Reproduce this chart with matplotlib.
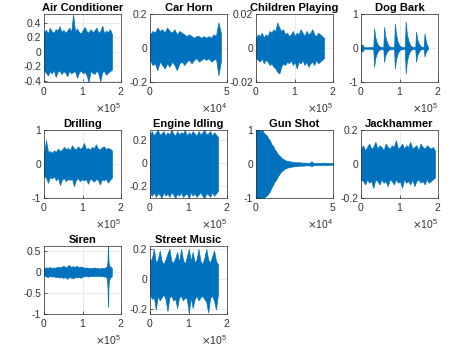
import numpy as np
import matplotlib.pyplot as plt
from matplotlib.ticker import FuncFormatter, ScalarFormatter

plt.rcParams["font.family"] = ["Liberation Sans", "DejaVu Sans"]
plt.rcParams["axes.unicode_minus"] = False

WAVE = "#0072BD"
AXC = "#262626"

titles = ["Air Conditioner", "Car Horn", "Children Playing", "Dog Bark",
          "Drilling", "Engine Idling", "Gun Shot", "Jackhammer",
          "Siren", "Street Music"]

# clip lengths in samples
clip_len = [176400, 46000, 176400, 176400, 176400, 176400, 50000, 192000, 176400, 176400]

# amplitude envelopes (upper / lower), evenly spaced over each clip
ac_hi = [0.27, 0.30, 0.25, 0.33, 0.28, 0.26, 0.31, 0.29, 0.35, 0.27, 0.30, 0.26, 0.29,
         0.33, 0.27, 0.51, 0.28, 0.32, 0.27, 0.25, 0.30, 0.34, 0.28, 0.26, 0.31, 0.27,
         0.29, 0.33, 0.26, 0.28, 0.36, 0.25, 0.29, 0.27, 0.31, 0.24]
ac_lo = [-0.26, -0.29, -0.33, -0.27, -0.30, -0.25, -0.35, -0.28, -0.26, -0.31, -0.27,
         -0.29, -0.34, -0.26, -0.30, -0.28, -0.27, -0.36, -0.29, -0.26, -0.30, -0.28,
         -0.33, -0.42, -0.27, -0.29, -0.31, -0.26, -0.30, -0.41, -0.28, -0.27, -0.32,
         -0.29, -0.27, -0.25]

ch_hi = [0.08, 0.10, 0.09, 0.12, 0.10, 0.11, 0.09, 0.12, 0.10, 0.09, 0.11, 0.08, 0.10,
         0.09, 0.08, 0.07, 0.08, 0.07, 0.06, 0.07, 0.07, 0.06, 0.07, 0.06, 0.07, 0.06,
         0.08, 0.07, 0.15, 0.09]
ch_lo = [-0.07, -0.10, -0.09, -0.13, -0.08, -0.10, -0.12, -0.09, -0.11, -0.08, -0.10,
         -0.13, -0.09, -0.08, -0.10, -0.08, -0.07, -0.09, -0.07, -0.06, -0.08, -0.07,
         -0.06, -0.07, -0.06, -0.08, -0.07, -0.06, -0.16, -0.08]

cp_hi = [0.006, 0.008, 0.007, 0.009, 0.006, 0.008, 0.007, 0.010, 0.009, 0.011, 0.010,
         0.015, 0.012, 0.010, 0.011, 0.008, 0.009, 0.007, 0.008, 0.010, 0.007, 0.009,
         0.008, 0.011, 0.009, 0.007, 0.010, 0.008, 0.009, 0.011, 0.008, 0.007, 0.009,
         0.008, 0.007, 0.006]
cp_lo = [-0.006, -0.007, -0.008, -0.006, -0.009, -0.007, -0.008, -0.010, -0.009, -0.011,
         -0.012, -0.014, -0.015, -0.011, -0.009, -0.010, -0.008, -0.009, -0.007, -0.010,
         -0.008, -0.012, -0.008, -0.009, -0.007, -0.010, -0.008, -0.011, -0.009, -0.008,
         -0.010, -0.007, -0.009, -0.008, -0.007, -0.006]

dr_hi = [0.30, 0.70, 0.35, 0.38, 0.33, 0.40, 0.36, 0.45, 0.38, 0.42, 0.50, 0.44, 0.47,
         0.41, 0.55, 0.46, 0.43, 0.52, 0.45, 0.48, 0.62, 0.44, 0.47, 0.42, 0.50, 0.46,
         0.58, 0.45, 0.43, 0.49, 0.52, 0.44, 0.47, 0.45, 0.40]
dr_lo = [-0.35, -0.40, -0.55, -0.38, -0.42, -0.36, -0.48, -0.40, -0.62, -0.45, -0.42,
         -0.50, -0.44, -0.47, -0.43, -0.65, -0.46, -0.42, -0.50, -0.45, -0.48, -0.44,
         -0.58, -0.43, -0.46, -0.52, -0.44, -0.47, -0.60, -0.45, -0.48, -0.43, -0.55,
         -0.46, -0.40]

ei_hi = [0.25, 0.28, 0.24, 0.27, 0.29, 0.25, 0.26, 0.28, 0.24, 0.27, 0.25, 0.29, 0.26,
         0.24, 0.28, 0.25, 0.27, 0.26, 0.29, 0.24, 0.27, 0.25, 0.28, 0.26, 0.24, 0.28,
         0.25, 0.27, 0.29, 0.25, 0.26, 0.28, 0.24, 0.27, 0.25, 0.23]
ei_lo = [-0.26, -0.28, -0.25, -0.29, -0.26, -0.27, -0.30, -0.25, -0.28, -0.26, -0.29,
         -0.25, -0.27, -0.30, -0.26, -0.28, -0.25, -0.29, -0.27, -0.26, -0.30, -0.25,
         -0.28, -0.26, -0.29, -0.27, -0.25, -0.28, -0.30, -0.26, -0.27, -0.29, -0.25,
         -0.28, -0.26, -0.24]

jh_hi = [0.09, 0.11, 0.08, 0.10, 0.12, 0.09, 0.10, 0.13, 0.09, 0.11, 0.10, 0.08, 0.12,
         0.10, 0.09, 0.11, 0.10, 0.14, 0.09, 0.10, 0.12, 0.09, 0.11, 0.10, 0.13, 0.09,
         0.10, 0.11, 0.08, 0.12, 0.10, 0.09, 0.11, 0.10, 0.09, 0.10, 0.08]
jh_lo = [-0.09, -0.10, -0.12, -0.09, -0.11, -0.10, -0.14, -0.09, -0.10, -0.12, -0.09,
         -0.11, -0.10, -0.13, -0.09, -0.10, -0.12, -0.09, -0.11, -0.10, -0.14, -0.09,
         -0.11, -0.10, -0.12, -0.09, -0.13, -0.10, -0.09, -0.11, -0.10, -0.12, -0.09,
         -0.11, -0.10, -0.09, -0.08]

sm_hi = [0.12, 0.14, 0.20, 0.11, 0.13, 0.19, 0.12, 0.10, 0.13, 0.17, 0.20, 0.12, 0.11,
         0.14, 0.18, 0.11, 0.20, 0.13, 0.10, 0.15, 0.20, 0.12, 0.18, 0.11, 0.13, 0.20,
         0.12, 0.10, 0.14, 0.20, 0.13, 0.11, 0.15, 0.19, 0.12, 0.10]
sm_lo = [-0.10, -0.13, -0.12, -0.20, -0.11, -0.14, -0.12, -0.10, -0.13, -0.21, -0.12,
         -0.11, -0.14, -0.13, -0.19, -0.12, -0.11, -0.14, -0.12, -0.13, -0.22, -0.12,
         -0.19, -0.13, -0.11, -0.14, -0.12, -0.11, -0.13, -0.15, -0.22, -0.12, -0.11,
         -0.14, -0.20, -0.10]

# event-like clips: envelope points at explicit sample positions (thousands)
db_x = [0, 2, 4, 7, 10,
        32, 34, 37, 41, 46, 52,
        58, 60, 63, 67, 72, 78,
        86, 88, 91, 95, 100, 106,
        114, 116, 119, 123, 128, 134,
        141, 143, 146, 150, 155, 161,
        163, 165, 168, 171, 174]
db_hi = [0.06, 0.11, 0.09, 0.04, 0.02,
         0.03, 0.58, 0.32, 0.16, 0.06, 0.03,
         0.03, 0.62, 0.34, 0.18, 0.06, 0.03,
         0.03, 0.72, 0.40, 0.20, 0.07, 0.03,
         0.03, 0.78, 0.42, 0.22, 0.08, 0.03,
         0.03, 0.48, 0.26, 0.13, 0.05, 0.03,
         0.03, 0.43, 0.22, 0.10, 0.03]
db_lo = [-0.06, -0.11, -0.09, -0.04, -0.02,
         -0.03, -0.55, -0.30, -0.15, -0.06, -0.03,
         -0.03, -0.40, -0.22, -0.12, -0.05, -0.03,
         -0.03, -0.60, -0.33, -0.17, -0.06, -0.03,
         -0.03, -0.75, -0.40, -0.20, -0.07, -0.03,
         -0.03, -0.40, -0.22, -0.11, -0.04, -0.03,
         -0.03, -0.25, -0.13, -0.06, -0.03]

gs_x = [0, 1, 2, 3, 4, 5, 6, 7, 8, 9, 10, 11, 12, 13, 14, 15, 16, 17, 18, 19, 20, 22,
        24, 26, 28, 30, 32, 34, 35, 36, 37, 38, 40, 42, 44, 46, 48, 50]
gs_hi = [1.00, 1.00, 1.00, 0.97, 1.00, 0.92, 0.88, 0.84, 0.75, 0.70, 0.58, 0.54, 0.44,
         0.38, 0.30, 0.25, 0.21, 0.16, 0.14, 0.11, 0.09, 0.08, 0.06, 0.05, 0.05, 0.04,
         0.04, 0.03, 0.04, 0.08, 0.04, 0.03, 0.03, 0.03, 0.04, 0.03, 0.03, 0.02]
gs_lo = [-1.00, -1.00, -1.00, -1.00, -0.98, -1.00, -0.96, -0.92, -0.87, -0.80, -0.70,
         -0.62, -0.52, -0.47, -0.38, -0.31, -0.24, -0.20, -0.16, -0.13, -0.11, -0.09,
         -0.07, -0.06, -0.05, -0.05, -0.04, -0.04, -0.04, -0.07, -0.04, -0.03, -0.03,
         -0.03, -0.03, -0.03, -0.02, -0.02]

si_x = [0, 5, 10, 15, 20, 25, 30, 35, 40, 45, 50, 55, 60, 65, 70, 75, 80, 85, 90, 95,
        100, 105, 110, 115, 120, 125, 130, 135, 140, 145, 150, 155, 160, 163, 165, 166,
        167, 168, 170, 173, 176]
si_hi = [0.09, 0.11, 0.10, 0.12, 0.09, 0.11, 0.10, 0.13, 0.11, 0.12, 0.15, 0.12, 0.13,
         0.17, 0.12, 0.14, 0.12, 0.15, 0.11, 0.13, 0.12, 0.10, 0.11, 0.09, 0.10, 0.09,
         0.11, 0.09, 0.10, 0.08, 0.10, 0.09, 0.11, 0.14, 0.25, 0.62, 0.40, 0.20, 0.15,
         0.12, 0.10]
si_lo = [-0.09, -0.10, -0.12, -0.09, -0.11, -0.10, -0.12, -0.11, -0.13, -0.12, -0.14,
         -0.12, -0.16, -0.12, -0.13, -0.15, -0.12, -0.13, -0.11, -0.14, -0.11, -0.10,
         -0.09, -0.11, -0.09, -0.10, -0.09, -0.10, -0.09, -0.10, -0.09, -0.11, -0.10,
         -0.15, -0.35, -0.82, -0.55, -0.25, -0.16, -0.12, -0.10]

envelopes = [ac_hi, ch_hi, cp_hi, None, dr_hi, ei_hi, None, jh_hi, None, sm_hi]
envelopes_lo = [ac_lo, ch_lo, cp_lo, None, dr_lo, ei_lo, None, jh_lo, None, sm_lo]
explicit = {3: (db_x, db_hi, db_lo), 6: (gs_x, gs_hi, gs_lo), 8: (si_x, si_hi, si_lo)}

ylims = [(-0.42, 0.52), (-0.2, 0.2), (-0.02, 0.02), (-1, 1), (-1, 1), (-0.3, 0.29),
         (-1, 1), (-0.2, 0.2), (-1, 0.62), (-0.23, 0.22)]
yticks = [[-0.4, -0.2, 0, 0.2, 0.4], [-0.2, 0, 0.2], [-0.02, 0, 0.02], [-1, 0, 1],
          [-1, 0, 1], [-0.2, 0, 0.2], [-1, 0, 1], [-0.2, 0, 0.2], [-1, -0.5, 0, 0.5],
          [-0.2, 0, 0.2]]
xmax = [2e5, 5e4, 2e5, 2e5, 2e5, 2e5, 5e4, 2e5, 2e5, 2e5]

fig = plt.figure(figsize=(4.74, 3.49), dpi=100)
lefts = [44, 150, 256, 361]
tops = [14, 130, 246]
W, H = 77, 68

for i, title in enumerate(titles):
    r, c = divmod(i, 4)
    ax = fig.add_axes([lefts[c] / 474, 1 - (tops[r] + H) / 349, W / 474, H / 349])

    if i in explicit:
        xs, hi, lo = explicit[i]
        x = np.asarray(xs, dtype=float) * 1000
    else:
        hi, lo = envelopes[i], envelopes_lo[i]
        x = np.linspace(0, clip_len[i], len(hi))
    ax.fill_between(x, lo, hi, color=WAVE, lw=0.5, edgecolor=WAVE, zorder=2)

    ax.set_xlim(0, xmax[i])
    ax.set_ylim(*ylims[i])
    ax.set_xticks([0, xmax[i] / 2, xmax[i]] if xmax[i] == 2e5 else [0, xmax[i]])
    ax.set_yticks(yticks[i])
    ax.yaxis.set_major_formatter(FuncFormatter(lambda v, p: "%g" % v))
    fmt = ScalarFormatter(useMathText=True)
    fmt.set_powerlimits((0, 0))
    ax.xaxis.set_major_formatter(fmt)
    ax.xaxis.get_offset_text().set_fontsize(7.5)
    ax.xaxis.get_offset_text().set_color("#333333")

    ax.grid(True, color="#e3e3e3", lw=0.5, zorder=0)
    ax.tick_params(direction="in", length=2, width=0.5, labelsize=7.5,
                   colors=AXC, labelcolor="#333333", pad=2)
    for s in ax.spines.values():
        s.set_linewidth(0.5)
        s.set_color(AXC)
    ax.set_title(title, fontsize=8, fontweight="bold", pad=2, color="black")

fig.savefig("out.png", dpi=100)
